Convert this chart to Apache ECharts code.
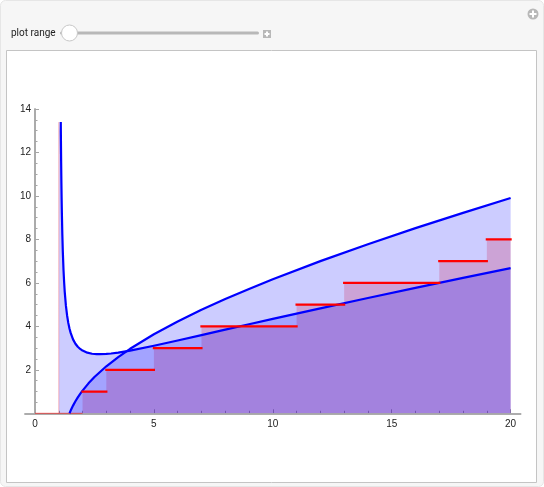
<!DOCTYPE html>
<html>
<head>
<meta charset="utf-8">
<title>plot range</title>
<script src="https://cdn.jsdelivr.net/npm/echarts@6/dist/echarts.min.js"></script>
<style>
  html, body { margin: 0; padding: 0; background: #fff; }
  #main { width: 544px; height: 487px; }
</style>
</head>
<body>
<div id="main"></div>
<script>
// upper curve
const upperX = [1.4513, 1.5, 1.55, 1.6, 1.7, 1.8, 1.9, 2, 2.25, 2.5, 3, 3.5, 4, 5, 6, 7, 8, 9, 10, 12, 14, 16, 18, 20]
const upperY = [0, 0.125, 0.244, 0.354, 0.554, 0.733, 0.896, 1.045, 1.377, 1.668, 2.164, 2.588, 2.968, 3.635, 4.222, 4.759, 5.254, 5.72, 6.166, 7.0, 7.78, 8.52, 9.22, 9.905]

// lower curve, with the spike next to x = 1
const lowerX = [1.084, 1.09, 1.1, 1.11, 1.12, 1.13, 1.15, 1.17, 1.2, 1.225, 1.25, 1.3, 1.35, 1.4, 1.45, 1.5, 1.6, 1.7, 1.8, 1.9, 2, 2.2, 2.4, 2.6, 2.72, 3, 3.2, 3.5, 4, 5, 6, 7, 8, 9, 10, 12, 14, 16, 18, 20]
const lowerY = [13.4, 12.65, 11.54, 10.64, 9.88, 9.25, 8.23, 7.45, 6.58, 6.04, 5.6, 4.95, 4.5, 4.16, 3.9, 3.7, 3.4, 3.2, 3.06, 2.96, 2.885, 2.79, 2.741, 2.721, 2.718, 2.731, 2.751, 2.794, 2.885, 3.107, 3.349, 3.597, 3.847, 4.096, 4.343, 4.829, 5.305, 5.771, 6.228, 6.676]

// red steps
const stepStart = [0, 2, 3, 5, 7, 11, 13, 17, 19]
const stepEnd = [2, 3, 5, 7, 11, 13, 17, 19, 20]
const stepValue = [0, 1, 2, 3, 4, 5, 6, 7, 8]

const xMajor = [0, 5, 10, 15, 20]
const xMinor = [1, 2, 3, 4, 6, 7, 8, 9, 11, 12, 13, 14, 16, 17, 18, 19]
const yMajor = [2, 4, 6, 8, 10, 12, 14]
const yMinor = [0.5, 1, 1.5, 2.5, 3, 3.5, 4.5, 5, 5.5, 6.5, 7, 7.5, 8.5, 9, 9.5, 10.5, 11, 11.5, 12.5, 13, 13.5]

const zip = (xs, ys) => xs.map((x, i) => [x, ys[i]])
const axisColor = '#a6a6a6'
const labelFont = '"Liberation Sans", sans-serif'

const xAxisBase = {
  type: 'value', min: -0.42, max: 20.42, position: 'bottom',
  splitLine: { show: false }, axisLine: { onZero: false, lineStyle: { color: axisColor, width: 1.5 } }
}
const yAxisBase = {
  type: 'value', min: 0, max: 14, position: 'left', offset: -10,
  splitLine: { show: false }, axisLine: { onZero: false, lineStyle: { color: axisColor, width: 1.5 } }
}

const stepFill = stepStart.flatMap((x, i) => [[x, stepValue[i]], [stepEnd[i], stepValue[i]]])
// the zero step is only a pale line on the axis, the others are solid
const stepLine = stepStart.slice(1).flatMap((x, i) => [[x, stepValue[i + 1]], [stepEnd[i + 1], stepValue[i + 1]], [stepEnd[i + 1], null]])
const zeroLine = [[stepStart[0], stepValue[0]], [stepEnd[0], stepValue[0]]]
const poleLine = [[1, 0], [1, lowerY[0]]]

const area = (data, color, z) => ({
  type: 'line', data, z, symbol: 'none', silent: true,
  lineStyle: { width: 0 }, areaStyle: { color, opacity: 0.2 }
})
const curve = (data, z) => ({
  type: 'line', data, z, symbol: 'none', silent: true,
  lineStyle: { color: '#0000ff', width: 2.2, join: 'round' }
})
const paleLine = (data, z, opacity) => ({
  type: 'line', data, z, symbol: 'none', silent: true,
  lineStyle: { color: '#ff0000', width: 1.2, opacity }
})

const chart = echarts.init(document.getElementById('main'), null, { renderer: 'canvas' })
chart.setOption({
  animation: false,
  backgroundColor: '#fff',
  grid: { left: 25, right: 23.4, top: 109, bottom: 73.7 },
  xAxis: [
    { ...xAxisBase,
      axisTick: { customValues: xMajor, inside: true, length: 4, lineStyle: { color: axisColor } },
      axisLabel: { customValues: xMajor, margin: 6, color: '#222', fontSize: 10, fontFamily: labelFont } },
    { ...xAxisBase,
      axisTick: { customValues: xMinor, inside: true, length: 2.5, lineStyle: { color: axisColor } },
      axisLabel: { show: false } }
  ],
  yAxis: [
    { ...yAxisBase,
      axisTick: { customValues: yMajor, inside: true, length: 4, lineStyle: { color: axisColor } },
      axisLabel: { customValues: yMajor, margin: 4, color: '#222', fontSize: 10, fontFamily: labelFont } },
    { ...yAxisBase,
      axisTick: { customValues: yMinor, inside: true, length: 2.5, lineStyle: { color: axisColor } },
      axisLabel: { show: false } }
  ],
  series: [
    area(stepFill, '#ff0000', 2),
    area([[1, lowerY[0]]].concat(zip(lowerX, lowerY)), '#0000ff', 3),
    area(zip(upperX, upperY), '#0000ff', 4),
    paleLine(zeroLine, 5, 0.45),
    paleLine(poleLine, 5, 0.22),
    curve(zip(lowerX, lowerY), 6),
    curve(zip(upperX, upperY), 6),
    { type: 'line', data: stepLine, z: 7, symbol: 'none', silent: true, connectNulls: false,
      lineStyle: { color: '#ff0000', width: 2.2, cap: 'square' } }
  ],
  graphic: [
    // outer panel, inner white frame and the controls above it
    { type: 'rect', z: -2, shape: { x: 0.5, y: 0.5, width: 543, height: 486, r: 5 },
      style: { fill: '#f6f6f6', stroke: '#e6e6e6', lineWidth: 1 } },
    { type: 'rect', z: -1, shape: { x: 6.5, y: 50.5, width: 530, height: 432 },
      style: { fill: '#fff', stroke: '#c4c4c4', lineWidth: 1 } },
    { type: 'text', x: 11, y: 28, style: { text: 'plot range', fontSize: 10, fontFamily: 'Roboto, sans-serif', fill: '#222' } },
    { type: 'rect', shape: { x: 60, y: 31.5, width: 199, height: 3, r: 1.5 }, style: { fill: '#b8b8b8' } },
    { type: 'circle', shape: { cx: 69.5, cy: 33, r: 8 }, style: { fill: '#fff', stroke: '#c8c8c8', lineWidth: 1 } },
    { type: 'rect', shape: { x: 263, y: 30, width: 8, height: 8 }, style: { fill: '#b8b8b8' } },
    { type: 'rect', shape: { x: 266, y: 31.5, width: 2, height: 5 }, style: { fill: '#fff' } },
    { type: 'rect', shape: { x: 264.5, y: 33, width: 5, height: 2 }, style: { fill: '#fff' } },
    { type: 'circle', shape: { cx: 533, cy: 14, r: 5.5 }, style: { fill: '#b8b8b8' } },
    { type: 'rect', shape: { x: 532, y: 10.5, width: 2, height: 7 }, style: { fill: '#fff' } },
    { type: 'rect', shape: { x: 529.5, y: 13, width: 7, height: 2 }, style: { fill: '#fff' } }
  ]
})
</script>
</body>
</html>
